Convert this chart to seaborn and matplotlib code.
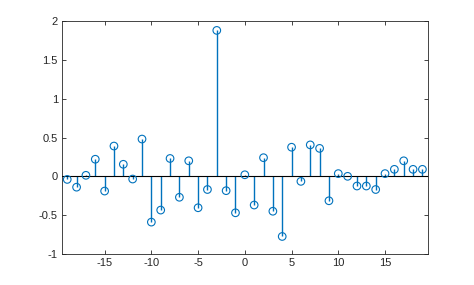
import numpy as np
import pandas as pd
import matplotlib
matplotlib.use("Agg")
import matplotlib.pyplot as plt
import seaborn as sns

n = list(range(-19, 20))
values = [-0.04, -0.14, 0.013, 0.22, -0.19, 0.39, 0.155, -0.035, 0.48, -0.59,
          -0.435, 0.23, -0.27, 0.2, -0.405, -0.17, 1.88, -0.185, -0.47, 0.02,
          -0.37, 0.24, -0.45, -0.775, 0.375, -0.065, 0.405, 0.36, -0.315, 0.035,
          0.0, -0.125, -0.125, -0.17, 0.035, 0.09, 0.2, 0.09, 0.09]
xticks = [-15, -10, -5, 0, 5, 10, 15]
yticks = [-1, -0.5, 0, 0.5, 1, 1.5, 2]
ytick_labels = ["-1", "-0.5", "0", "0.5", "1", "1.5", "2"]

df = pd.DataFrame({"n": n, "v": values})

sns.set_theme(style="white")
plt.rcParams['font.family'] = ['Liberation Sans', 'DejaVu Sans']

fig = plt.figure(figsize=(4.74, 2.85), dpi=100)
ax = fig.add_axes([0.131, 0.109, 0.772, 0.817])

stem_color = "#0072BD"
ax.vlines(df["n"], 0, df["v"], color=stem_color, linewidth=1.0, zorder=2)
ax.axhline(0, color="black", linewidth=0.8, zorder=3)
sns.scatterplot(data=df, x="n", y="v", ax=ax, marker="o", s=30,
                facecolors="none", edgecolor=stem_color, linewidth=0.8, zorder=4)

ax.set_xlim(-19.55, 19.6)
ax.set_ylim(-1, 2)
ax.set_xticks(xticks)
ax.set_xticklabels([str(t) for t in xticks])
ax.set_yticks(yticks)
ax.set_yticklabels(ytick_labels)
ax.set_xlabel("")
ax.set_ylabel("")

axcol = "#262626"
for sp in ax.spines.values():
    sp.set_color(axcol)
    sp.set_linewidth(0.6)
ax.tick_params(direction="in", length=3, width=0.6, colors=axcol,
               labelsize=8, top=True, right=True, bottom=True, left=True, pad=3)

fig.savefig("out.png", dpi=100)
